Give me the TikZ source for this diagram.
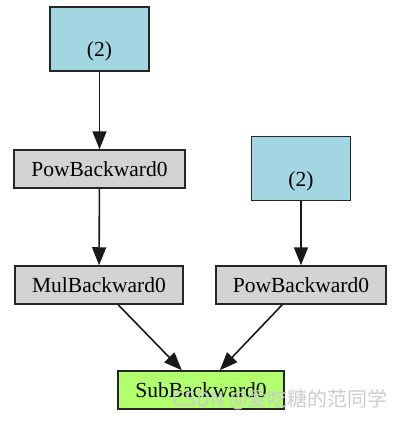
\documentclass[tikz,border=0pt]{standalone}
\usepackage{fontspec}
\setmainfont{Liberation Serif}
\newfontfamily\cjkfont{Noto Sans CJK SC}
\usetikzlibrary{arrows.meta}
\definecolor{leafblue}{HTML}{A3D6E3}
\definecolor{opgray}{HTML}{D3D3D3}
\definecolor{rootgreen}{HTML}{B2FF6E}
\definecolor{edgedark}{HTML}{262626}

\begin{document}
\begin{tikzpicture}[x=1pt,y=-1pt,
    box/.style={draw=edgedark,line width=1.5pt,rectangle,inner sep=0pt,minimum height=38pt,font=\fontsize{21.5}{25}\selectfont},
    leaf/.style={box,fill=leafblue,minimum width=99pt,minimum height=64pt},
    op/.style={box,fill=opgray},
    edge/.style={-{Triangle[length=18pt,width=14pt]},line width=1.6pt,black!90}]
        \useasboundingbox (0,0) rectangle (400,421);
        % Draw the leaf tensors
        \node[leaf] (leafa) at (99.5,39) {\raisebox{-17.5pt}[0pt][0pt]{(2)}};
        \node[leaf] (leafb) at (301,168.5) {\raisebox{-17.5pt}[0pt][0pt]{(2)}};
        % Draw the backward ops
        \node[op,minimum width=171pt] (powa) at (99.5,169) {PowBackward0};
        \node[op,minimum width=168pt] (mul) at (99,285) {MulBackward0};
        \node[op,minimum width=170pt] (powb) at (301,285) {PowBackward0};
        \node[op,fill=rootgreen,minimum width=166pt] (sub) at (201,390) {SubBackward0};
        % edges
        \draw[edge] (leafa) -- (powa);
        \draw[edge] (powa) -- (mul);
        \draw[edge] (leafb) -- (powb);
        \draw[edge] (mul) -- (sub);
        \draw[edge] (powb) -- (sub);
        % watermark
        \node[anchor=base west,inner sep=0pt,text=gray!40,font=\cjkfont\fontsize{20}{24}\selectfont] (mark) at (172,406) {CSDN @爱吃糖的范同学};
      \end{tikzpicture}
\end{document}
